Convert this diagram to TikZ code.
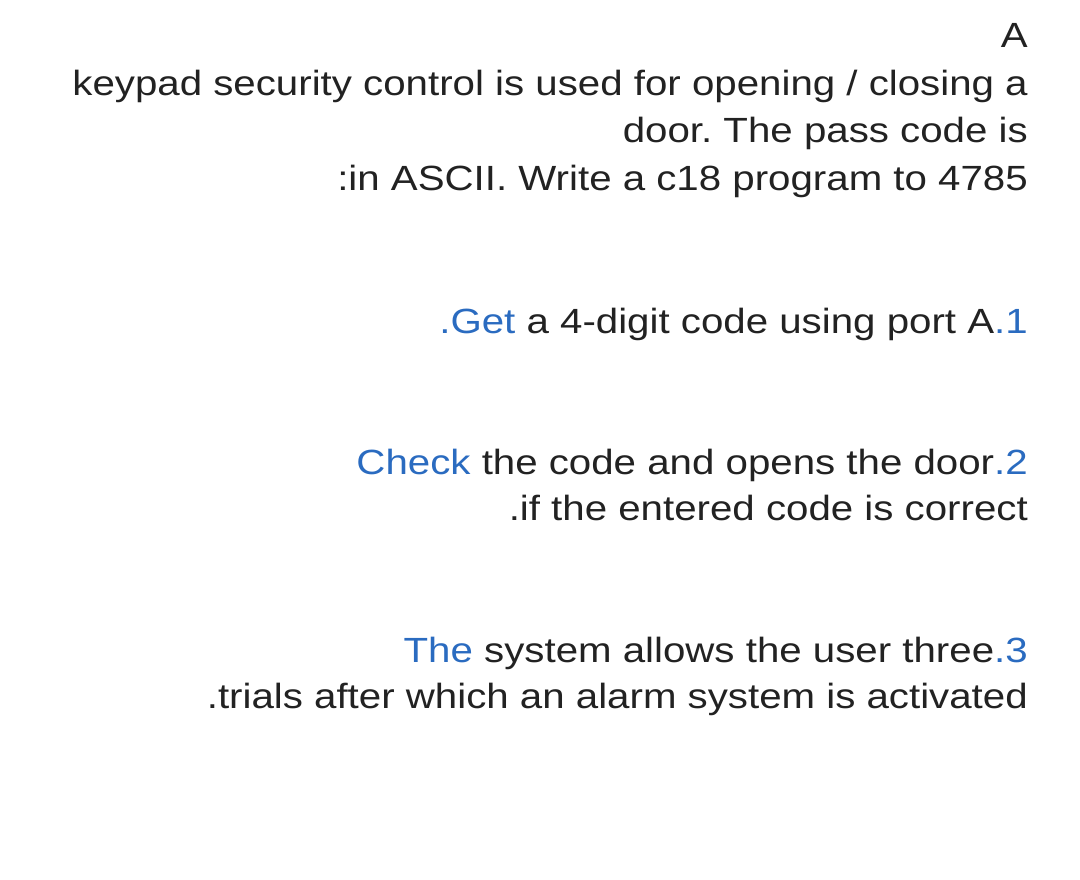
\documentclass[tikz,border=0pt]{standalone}
\usepackage{fontspec}
\setmainfont[FakeStretch=1.15]{Liberation Sans}
\definecolor{lnk}{HTML}{2A6BC0}
\definecolor{txt}{HTML}{222222}
\begin{document}
\frenchspacing
\begin{tikzpicture}[x=1pt,y=-1pt,
  ln/.style={anchor=base east,inner sep=0pt,font=\fontsize{35}{44}\selectfont,text=txt}]
\useasboundingbox[fill=white] (0,0) rectangle (1080,880);
\node[ln] (l1) at (1028,48) {A};
\node[ln] (l2) at (1028,96) {keypad security control is used for opening / closing a};
\node[ln] (l3) at (1028,143) {door. The pass code is};
\node[ln] (l4) at (1028,191) {:in ASCII. Write a c18 program to 4785};
\node[ln] (l5) at (1028,333) {\textcolor{lnk}{.Get} a 4-digit code using port A\textcolor{lnk}{.1}};
\node[ln] (l6) at (1028,474) {\textcolor{lnk}{Check} the code and opens the door\textcolor{lnk}{.2}};
\node[ln] (l7) at (1028,520) {.if the entered code is correct};
\node[ln] (l8) at (1028,662) {\textcolor{lnk}{The} system allows the user three\textcolor{lnk}{.3}};
\node[ln] (l9) at (1028,708) {.trials after which an alarm system is activated};
\end{tikzpicture}
\end{document}
